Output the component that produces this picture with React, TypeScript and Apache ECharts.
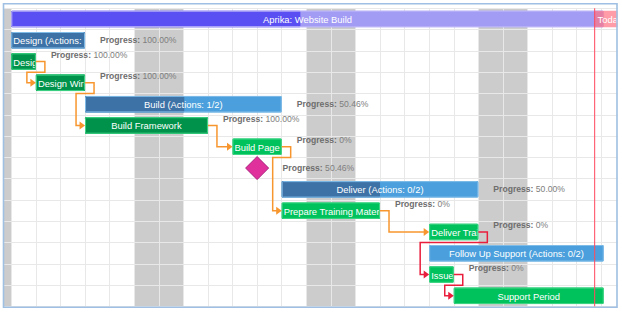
import React, { useEffect, useRef } from 'react';
import * as echarts from 'echarts';

// ---- data ----
const rowLabels = [
  'Aprika: Website Build',
  'Design (Actions: 2/2)',
  'Design',
  'Design Wireframes',
  'Build (Actions: 1/2)',
  'Build Framework',
  'Build Page',
  'Launch',
  'Deliver (Actions: 0/2)',
  'Prepare Training Materials',
  'Deliver Training',
  'Follow Up Support (Actions: 0/2)',
  'Issue',
  'Support Period',
];
const rowKinds = ['project', 'summary', 'task', 'task', 'summary', 'task', 'task', 'milestone', 'summary', 'task', 'task', 'summary', 'task', 'task'];
const startDays = [0, 0, 0, 1, 3, 3, 9, 10, 11, 11, 17, 17, 17, 18];
const endDays = [24.1, 3, 1, 3, 11, 8, 11, 10, 19, 15, 19, 24.1, 18, 24.1];
const progressValues = [0.488, 1, 1, 1, 0.5046, 1, 0, 0.5046, 0.5, 0, 0, 0, 0, 0];
const progressLabels = ['', '100.00%', '100.00%', '100.00%', '50.46%', '100.00%', '0%', '50.46%', '50.00%', '0%', '0%', '', '0%', ''];

const weekendStarts = [-1, 5, 12, 19];
const weekendEnds = [0, 7, 14, 21];

const depFrom = [2, 3, 5, 6, 9, 10, 12];
const depTo = [3, 5, 6, 9, 10, 12, 13];
const depCritical = [false, false, false, false, false, true, true];

const todayValue = 23.73;
const todayLabel = 'Today';

// ---- styles ----
const FONT = '"Liberation Sans", Arial, Helvetica, sans-serif';
const BAR_FONT_SIZE = 9.4;
const kindColors: Record<string, { light: string; dark: string; border: string }> = {
  project: { light: '#a39cf5', dark: '#5a4ff2', border: '#bcb6f8' },
  summary: { light: '#4a9fdc', dark: '#3d72a6', border: '#80bce8' },
  task: { light: '#00c25c', dark: '#00924a', border: '#40d686' },
};

let measureCtx: CanvasRenderingContext2D | null = null;
function textWidth(t: string): number {
  if (!measureCtx) {
    const c = document.createElement('canvas');
    measureCtx = c.getContext('2d');
  }
  if (!measureCtx) return t.length * BAR_FONT_SIZE * 0.5;
  measureCtx.font = BAR_FONT_SIZE + 'px ' + FONT;
  return measureCtx.measureText(t).width;
}
// shortest prefix that reaches the available width (last char is partly clipped)
function clipPrefix(t: string, avail: number): string {
  for (let n = 1; n <= t.length; n++) {
    if (textWidth(t.slice(0, n)) >= avail) return t.slice(0, n);
  }
  return t;
}

export default function App() {
  const ref = useRef<HTMLDivElement>(null);

  useEffect(() => {
    const chart = echarts.init(ref.current!, null, { renderer: 'svg' });
    const BAR_H = 16.5;

    const taskData = rowLabels.map((_, i) => [startDays[i], i, endDays[i], progressValues[i]]);

    const renderTask = (params: any, api: any) => {
      const i = params.dataIndex;
      const kind = rowKinds[i];
      const s = api.coord([api.value(0), api.value(1)]);
      const e = api.coord([api.value(2), api.value(1)]);
      const p = api.value(3);
      const children: any[] = [];
      const progressStyle = {
        text: progressLabels[i] ? '{b|Progress:} {v|' + progressLabels[i] + '}' : '',
        rich: {
          b: { fontWeight: 'bold', fill: '#6e6e6e', fontSize: 8.6, fontFamily: FONT },
          v: { fill: '#7e7e7e', fontSize: 8.6, fontFamily: FONT },
        },
        verticalAlign: 'middle',
        align: 'left',
        fontSize: 8.6,
        fontFamily: FONT,
      };
      if (kind === 'milestone') {
        const cx = s[0];
        const cy = s[1];
        const r = 11.5;
        children.push({
          type: 'polygon',
          shape: { points: [[cx, cy - r], [cx + r, cy], [cx, cy + r], [cx - r, cy]] },
          style: { fill: '#e0309c', stroke: '#a8207c', lineWidth: 1 },
        });
        if (progressLabels[i]) {
          children.push({ type: 'text', style: { ...progressStyle, x: cx + r + 14, y: cy } });
        }
        return { type: 'group', children };
      }
      const c = kindColors[kind];
      const w = e[0] - s[0];
      const y0 = s[1] - BAR_H / 2;
      children.push({
        type: 'rect',
        shape: { x: s[0], y: y0, width: w, height: BAR_H, r: 1 },
        style: { fill: c.light },
      });
      if (p > 0) {
        children.push({
          type: 'rect',
          shape: { x: s[0], y: y0, width: w * p, height: BAR_H, r: 1 },
          style: { fill: c.dark },
        });
      }
      children.push({
        type: 'rect',
        shape: { x: s[0] + 0.5, y: y0 + 0.5, width: w - 1, height: BAR_H - 1, r: 1 },
        style: { fill: 'none', stroke: c.border, lineWidth: 1 },
      });
      const tw = textWidth(rowLabels[i]);
      const fits = tw <= w - 3;
      const shown = fits ? rowLabels[i] : clipPrefix(rowLabels[i], w - 3);
      children.push({
        type: 'text',
        clipPath: { type: 'rect', shape: { x: s[0] + 1, y: y0, width: w - 2, height: BAR_H } },
        style: {
          text: shown,
          x: fits ? s[0] + w / 2 : s[0] + 2,
          y: s[1] + 0.5,
          align: fits ? 'center' : 'left',
          verticalAlign: 'middle',
          fill: '#ffffff',
          fontSize: BAR_FONT_SIZE,
          fontFamily: FONT,
        },
      });
      if (progressLabels[i]) {
        const ly = kind === 'task' ? s[1] - 6.5 : s[1];
        children.push({ type: 'text', style: { ...progressStyle, x: e[0] + 15, y: ly } });
      }
      return { type: 'group', children };
    };

    const renderWeekend = (params: any, api: any) => {
      const a = api.coord([api.value(0), 0]);
      const b = api.coord([api.value(1), 0]);
      const cs = params.coordSys;
      return {
        type: 'rect',
        shape: { x: a[0], y: cs.y, width: b[0] - a[0], height: cs.height },
        style: { fill: '#cccccc' },
      };
    };

    const renderDep = (params: any, api: any) => {
      const k = params.dataIndex;
      const f = depFrom[k];
      const t = depTo[k];
      const a = api.coord([endDays[f], f]);
      const b = api.coord([startDays[t], t]);
      const rowH = api.size([0, 1])[1];
      const gap = 9;
      let pts: number[][];
      if (b[0] - a[0] > 2 * gap) {
        pts = [[a[0], a[1]], [a[0] + gap, a[1]], [a[0] + gap, b[1]], [b[0] - 4, b[1]]];
      } else {
        const yb = a[1] + rowH / 2;
        pts = [
          [a[0], a[1]],
          [a[0] + gap, a[1]],
          [a[0] + gap, yb],
          [b[0] - gap, yb],
          [b[0] - gap, b[1]],
          [b[0] - 4, b[1]],
        ];
      }
      const color = depCritical[k] ? '#e91e3c' : '#f7962e';
      return {
        type: 'group',
        children: [
          { type: 'polyline', shape: { points: pts }, style: { stroke: color, lineWidth: 1.5, fill: 'none' } },
          {
            type: 'polygon',
            shape: { points: [[b[0] - 5.5, b[1] - 4], [b[0], b[1]], [b[0] - 5.5, b[1] + 4]] },
            style: { fill: color },
          },
        ],
      };
    };

    const renderToday = (params: any, api: any) => {
      const cs = params.coordSys;
      const p = api.coord([api.value(0), 0]);
      const boxW = 617 - p[0];
      return {
        type: 'group',
        children: [
          {
            type: 'rect',
            shape: { x: p[0], y: p[1] - BAR_H / 2, width: 32, height: BAR_H },
            style: { fill: 'rgba(255,118,134,0.72)' },
          },
          {
            type: 'text',
            clipPath: { type: 'rect', shape: { x: p[0], y: p[1] - BAR_H / 2, width: boxW, height: BAR_H } },
            style: {
              text: clipPrefix(todayLabel, boxW - 3),
              x: p[0] + 3,
              y: p[1] + 0.5,
              align: 'left',
              verticalAlign: 'middle',
              fill: '#ffffff',
              fontSize: BAR_FONT_SIZE,
              fontFamily: FONT,
            },
          },
          {
            type: 'line',
            shape: { x1: p[0], y1: cs.y, x2: p[0], y2: cs.y + cs.height },
            style: { stroke: '#ff4a5e', lineWidth: 1.2, opacity: 0.85 },
          },
        ],
      };
    };

    const option: any = {
      animation: false,
      backgroundColor: '#ffffff',
      grid: { left: -13.28, width: 639.1, top: 8.3, height: 298.2, outerBoundsMode: 'none', containLabel: false },
      xAxis: {
        type: 'value',
        min: -1,
        max: 25,
        interval: 1,
        z: 1,
        axisLine: { show: false },
        axisTick: { show: false },
        axisLabel: { show: false },
        splitLine: { show: true, lineStyle: { color: '#e8e8e8', width: 1 } },
      },
      yAxis: {
        type: 'category',
        data: rowLabels,
        inverse: true,
        z: 1,
        axisLine: { show: false },
        axisTick: { show: false },
        axisLabel: { show: false },
        splitLine: { show: true, lineStyle: { color: '#e8e8e8', width: 1 } },
      },
      series: [
        {
          type: 'custom',
          name: 'weekend',
          z: 0,
          renderItem: renderWeekend,
          data: weekendStarts.map((s, i) => [s, weekendEnds[i]]),
          encode: { x: [0, 1] },
          silent: true,
        },
        {
          type: 'custom',
          name: 'tasks',
          z: 3,
          renderItem: renderTask,
          data: taskData,
          encode: { x: [0, 2], y: 1 },
        },
        {
          type: 'custom',
          name: 'deps',
          z: 4,
          renderItem: renderDep,
          data: depFrom.map((f, i) => [endDays[f], f, startDays[depTo[i]], depTo[i]]),
          encode: { x: [0, 2], y: [1, 3] },
        },
        {
          type: 'custom',
          name: 'today',
          z: 5,
          renderItem: renderToday,
          data: [[todayValue, 0]],
          encode: { x: 0, y: 1 },
        },
      ],
      graphic: [
        { type: 'rect', z: 100, shape: { x: 0, y: 0, width: 622, height: 3.5 }, style: { fill: '#fff' } },
        { type: 'rect', z: 100, shape: { x: 0, y: 307.5, width: 622, height: 6 }, style: { fill: '#fff' } },
        { type: 'rect', z: 100, shape: { x: 0, y: 0, width: 3.5, height: 313 }, style: { fill: '#fff' } },
        { type: 'rect', z: 100, shape: { x: 617.5, y: 0, width: 5, height: 313 }, style: { fill: '#fff' } },
        {
          type: 'rect',
          z: 101,
          shape: { x: 3.5, y: 3.8, width: 613.5, height: 303.5 },
          style: { fill: 'none', stroke: '#9fc0e2', lineWidth: 1.6 },
        },
      ],
    };
    chart.setOption(option);
    return () => chart.dispose();
  }, []);

  return <div ref={ref} style={{ position: 'fixed', left: 0, top: 0, width: 622, height: 313 }} />;
}
